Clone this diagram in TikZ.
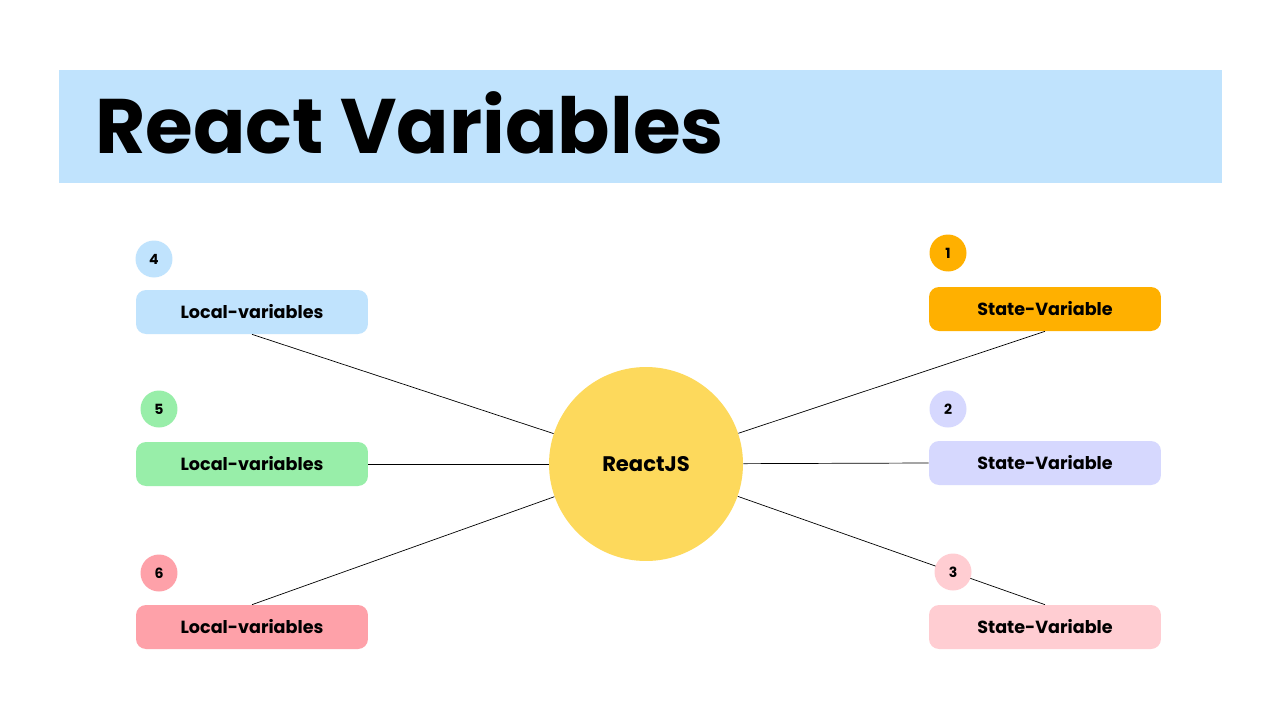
\documentclass[tikz,border=0pt]{standalone}
\usepackage{fontspec}
\setmainfont{Poppins}
\usetikzlibrary{positioning}
\definecolor{skyblue}{HTML}{C0E3FD}
\definecolor{mint}{HTML}{98EEA9}
\definecolor{rose}{HTML}{FEA1A9}
\definecolor{amber}{HTML}{FFB000}
\definecolor{lilac}{HTML}{D6D8FE}
\definecolor{blush}{HTML}{FFCDD2}
\definecolor{sun}{HTML}{FDD95C}
\tikzset{
  varbox/.style={rounded corners=0.2cm, minimum width=4.64cm, minimum height=0.88cm, font=\bfseries\fontsize{10}{12}\selectfont, inner sep=0pt},
  badge/.style={circle, minimum size=0.74cm, inner sep=0pt, font=\bfseries\fontsize{8}{10}\selectfont},
  link/.style={thin, black}
}
\begin{document}
\begin{tikzpicture}[x=0.02cm, y=-0.02cm]
    \useasboundingbox[fill=white] (0,0) rectangle (1280,720);
    \fill[skyblue] (59,70) rectangle (1222,183);
    \node[anchor=base west, inner sep=0pt, font=\bfseries\fontsize{44}{50}\selectfont] (title) at (95,153) {React Variables};

    \node[circle, fill=sun, minimum size=3.88cm, font=\bfseries\fontsize{12}{14}\selectfont] (react) at (646,464) {ReactJS};

    \node[varbox, fill=skyblue] (loc4) at (252,312) {Local-variables};
    \node[varbox, fill=mint] (loc5) at (252,464) {Local-variables};
    \node[varbox, fill=rose] (loc6) at (252,627) {Local-variables};
    \node[varbox, fill=amber] (st1) at (1045,309) {State-Variable};
    \node[varbox, fill=lilac] (st2) at (1045,463) {State-Variable};
    \node[varbox, fill=blush] (st3) at (1045,627) {State-Variable};

    \draw[link] (loc4.south) -- (react);
    \draw[link] (loc5.east) -- (react);
    \draw[link] (loc6.north) -- (react);
    \draw[link] (st1.south) -- (react);
    \draw[link] (st2.west) -- (react);
    \draw[link] (st3.north) -- (react);

    \node[badge, fill=skyblue] (b4) at (154,259) {4};
    \node[badge, fill=mint] (b5) at (159,409) {5};
    \node[badge, fill=rose] (b6) at (159,573) {6};
    \node[badge, fill=amber] (b1) at (948,253) {1};
    \node[badge, fill=lilac] (b2) at (948,409) {2};
    \node[badge, fill=blush] (b3) at (953,572) {3};
\end{tikzpicture}
\end{document}
